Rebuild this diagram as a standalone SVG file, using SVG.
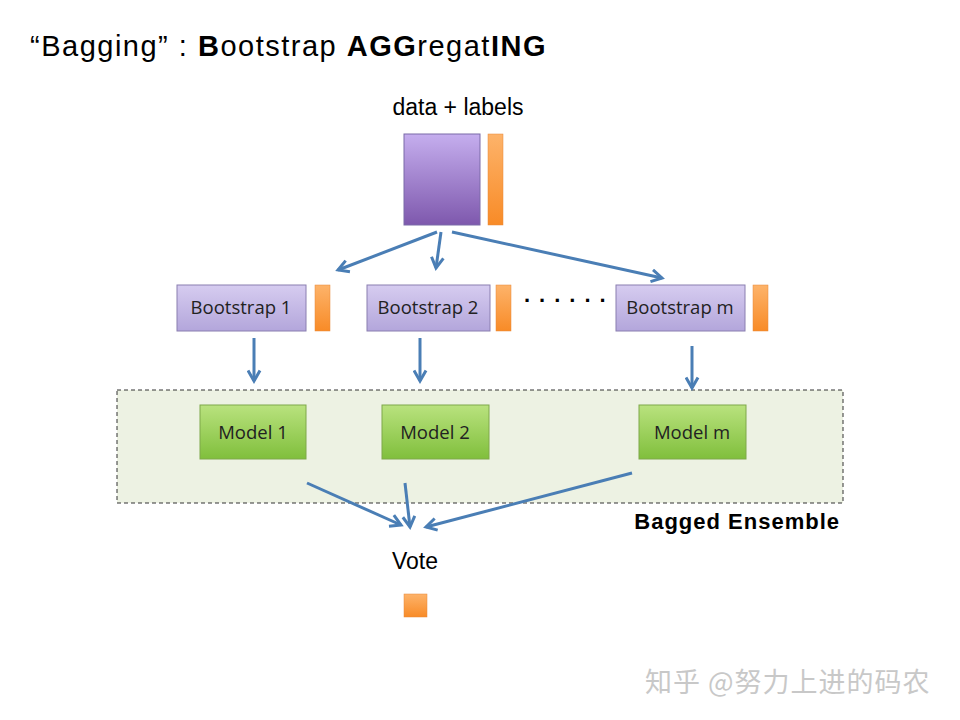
<svg xmlns="http://www.w3.org/2000/svg" width="960" height="720" viewBox="0 0 960 720">
<style>
.t{font-family:"Liberation Sans",Arial,sans-serif;fill:#000}
.bt{font-family:"Open Sans","DejaVu Sans",sans-serif;font-size:18.5px;fill:#222;text-anchor:middle}
.boot{fill:url(#gp);stroke:#8a7fb0;stroke-width:1}
.mod{fill:url(#gg);stroke:#7fa84a;stroke-width:1}
.or{fill:url(#go);stroke:#e8883a;stroke-width:0.5}
.ar{stroke:#4a7eb5;stroke-width:3;fill:none;marker-end:url(#ah)}
</style>
<defs>
<linearGradient id="gp" x1="0" y1="0" x2="0" y2="1"><stop offset="0" stop-color="#d6ccf0"/><stop offset="1" stop-color="#b3a6db"/></linearGradient>
<linearGradient id="gbig" x1="0" y1="0" x2="0" y2="1"><stop offset="0" stop-color="#c5aeee"/><stop offset="1" stop-color="#7e58ad"/></linearGradient>
<linearGradient id="gg" x1="0" y1="0" x2="0" y2="1"><stop offset="0" stop-color="#b9e27e"/><stop offset="1" stop-color="#80bf3c"/></linearGradient>
<linearGradient id="go" x1="0" y1="0" x2="0" y2="1"><stop offset="0" stop-color="#fdb36a"/><stop offset="1" stop-color="#f88b27"/></linearGradient>
<marker id="ah" viewBox="0 0 10 10" refX="8" refY="5" markerWidth="5" markerHeight="5" orient="auto"><path d="M1,1 L8,5 L1,9" fill="none" stroke="#4a7eb5" stroke-width="2"/></marker>
</defs>
<rect width="960" height="720" fill="#fff"/>
<text class="t" x="30" y="56" font-size="29" letter-spacing="1.5">“Bagging” : <tspan font-weight="bold">B</tspan>ootstrap <tspan font-weight="bold">AGG</tspan>regat<tspan font-weight="bold">ING</tspan></text>
<g id="ensemble"><rect x="117" y="390" width="726" height="113" fill="#edf2e3" stroke="#333" stroke-dasharray="4,3"/>
<text class="t" x="840" y="529" font-size="22" font-weight="bold" letter-spacing="1" text-anchor="end">Bagged Ensemble</text></g>
<g id="data"><text class="t" x="458" y="115" font-size="23" text-anchor="middle">data + labels</text>
<rect x="404" y="134" width="76" height="91" fill="url(#gbig)" stroke="#7a6aa8"/>
<rect class="or" x="488" y="134" width="15" height="91"/></g>
<g id="b1"><rect class="boot" x="177" y="285" width="129" height="46"/><text class="bt" x="241" y="314">Bootstrap 1</text><rect class="or" x="315" y="285" width="15" height="46"/></g>
<g id="b2"><rect class="boot" x="367" y="285" width="123" height="46"/><text class="bt" x="428" y="314">Bootstrap 2</text><rect class="or" x="496" y="285" width="15" height="46"/></g>
<g id="dots"><text class="t" x="524" y="302" font-size="22" font-weight="bold" letter-spacing="9">......</text></g>
<g id="bm"><rect class="boot" x="616" y="285" width="129" height="46"/><text class="bt" x="680" y="314">Bootstrap m</text><rect class="or" x="753" y="285" width="15" height="46"/></g>
<g id="m1"><rect class="mod" x="200" y="405" width="106" height="54"/><text class="bt" x="253" y="439">Model 1</text></g>
<g id="m2"><rect class="mod" x="382" y="405" width="107" height="54"/><text class="bt" x="435" y="439">Model 2</text></g>
<g id="mm"><rect class="mod" x="639" y="405" width="107" height="54"/><text class="bt" x="692" y="439">Model m</text></g>
<g id="vote"><text class="t" x="415" y="569" font-size="23" text-anchor="middle">Vote</text><rect class="or" x="404" y="594" width="23" height="23"/></g>
<g id="connectors">
<line class="ar" x1="437" y1="232" x2="338" y2="270"/>
<line class="ar" x1="441" y1="232" x2="436" y2="268"/>
<line class="ar" x1="452" y1="232" x2="662" y2="278"/>
<line class="ar" x1="254" y1="338" x2="254" y2="381"/>
<line class="ar" x1="420" y1="338" x2="420" y2="381"/>
<line class="ar" x1="692" y1="346" x2="692" y2="388"/>
<line class="ar" x1="307" y1="483" x2="401" y2="525"/>
<line class="ar" x1="405" y1="483" x2="410" y2="527"/>
<line class="ar" x1="632" y1="473" x2="426" y2="527"/>
</g>
<text x="645" y="692" font-size="27" letter-spacing="1" fill="#c8c8c8" font-family="'Noto Sans CJK SC',sans-serif">知乎 @努力上进的码农</text>
</svg>
